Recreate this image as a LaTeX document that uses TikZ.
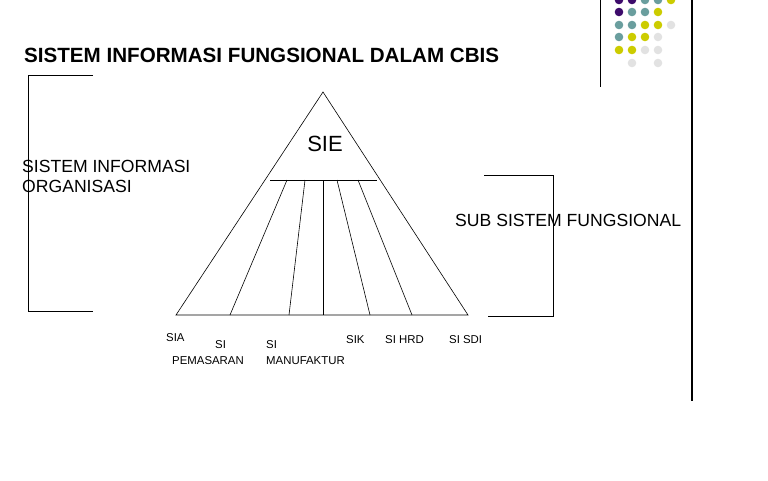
\documentclass[tikz,border=0pt]{standalone}
\usepackage{fontspec}
\setmainfont{Liberation Sans}
\begin{document}
\begin{tikzpicture}[x=1pt,y=-1pt,
  lbl/.style={inner sep=0pt,anchor=north west,font=\fontsize{11.4}{16}\selectfont,align=left},
  ln/.style={line width=0.6pt}]
\useasboundingbox (0,0) rectangle (768,480);
\definecolor{cp}{HTML}{3D0B6B}\definecolor{ct}{HTML}{6A9E9E}
\definecolor{cy}{HTML}{CCCC00}\definecolor{cg}{HTML}{E2E2E2}
\foreach \x/\y/\c in {619/0/cp,632/0/cp,645/0/ct,658/0/ct,671/0/cy,
 619/12/cp,632/12/ct,645/12/ct,658/12/cy,
 619/25/ct,632/25/ct,645/25/cy,658/25/cy,671/25/cg,
 619/37/ct,632/37/cy,645/37/cy,658/37/cg,
 619/50/cy,632/50/cy,645/50/cg,658/50/cg,
 632/63/cg,658/63/cg}
 \fill[\c] (\x,\y) circle (4.3);
\draw[line width=0.8pt] (600,0) -- (600,87);
\draw[line width=2pt] (692,0) -- (692,401);
\node[inner sep=0pt,anchor=west,font=\bfseries\fontsize{20.6}{24}\selectfont] (t) at (24,55) {SISTEM INFORMASI FUNGSIONAL DALAM CBIS};
\coordinate (A) at (323,92); \coordinate (B) at (176,315); \coordinate (C) at (468,315);
\draw[ln] (A) -- (B) -- (C) -- cycle;
\draw[ln] (270,180) -- (377,180);
\draw[ln] (287,180) -- (230,315);
\draw[ln] (305,180) -- (289,315);
\draw[ln] (323,180) -- (323,315);
\draw[ln] (337,180) -- (370,315);
\draw[ln] (358,180) -- (412,315);
\node[font=\fontsize{22}{26}\selectfont] (sie) at (325,144) {SIE};
\draw[ln] (93,75) -- (28,75) -- (28,311) -- (93,311);
\draw[ln] (484,175) -- (553,175) -- (553,316) -- (488,316);
\node[lbl,font=\fontsize{17.6}{20.5}\selectfont] (o) at (22,160) {SISTEM INFORMASI\\ORGANISASI};
\node[lbl,font=\fontsize{17.6}{20.5}\selectfont] (s) at (455,214) {SUB SISTEM FUNGSIONAL};
\node[lbl] (a) at (166,333) {SIA};
\node[lbl] (b) at (172,340) {\hspace*{43pt}SI\\PEMASARAN};
\node[lbl] (c) at (266,340) {SI\\MANUFAKTUR};
\node[lbl] (d) at (346,335) {SIK};
\node[lbl] (e) at (385,335) {SI HRD};
\node[lbl] (f) at (449,335) {SI SDI};
\end{tikzpicture}
\end{document}
